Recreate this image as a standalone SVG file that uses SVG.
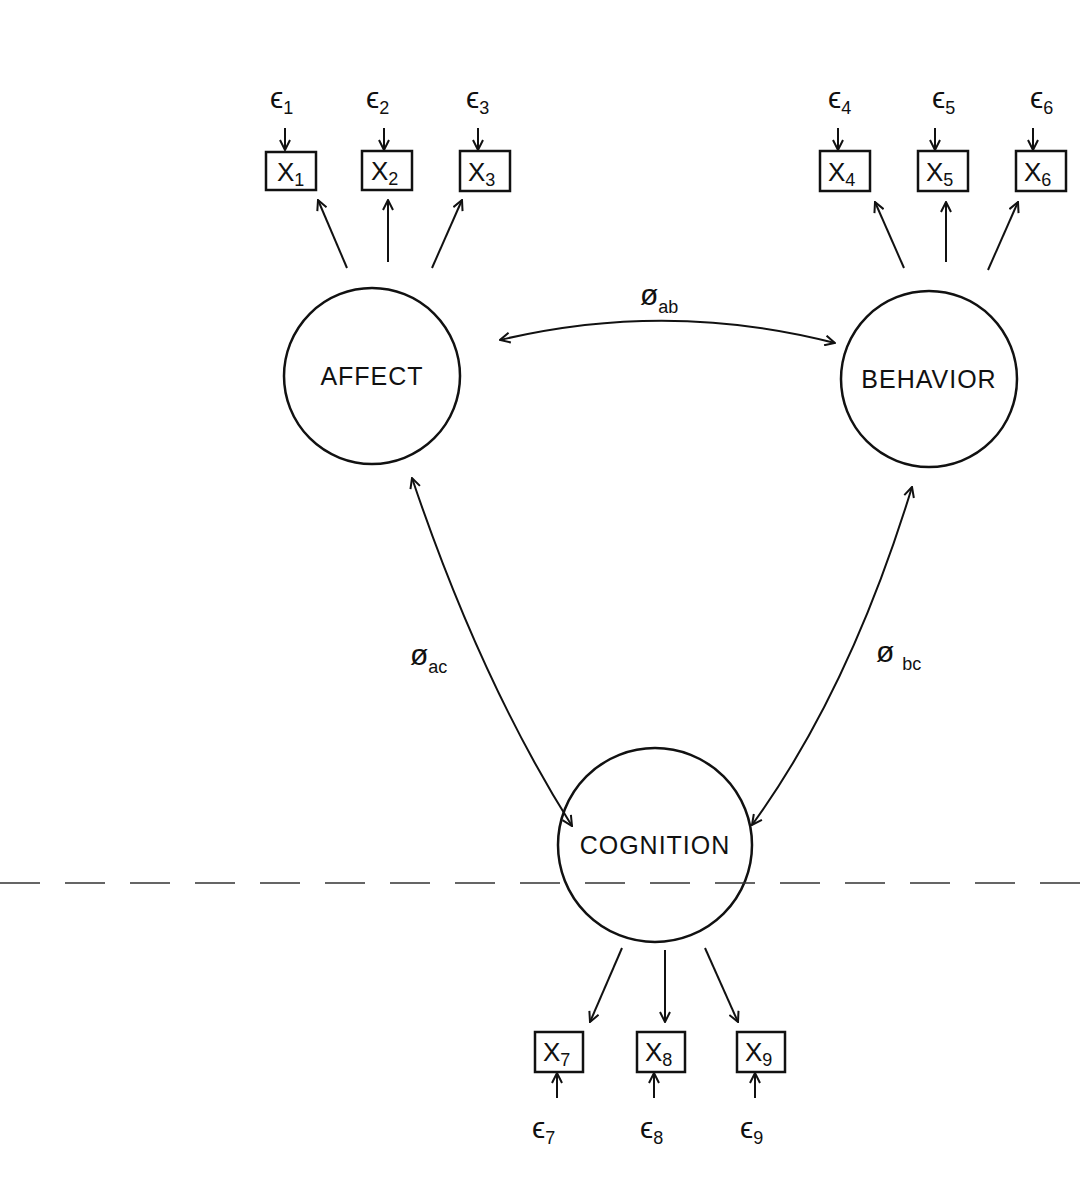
<svg xmlns="http://www.w3.org/2000/svg" width="1084" height="1192" viewBox="0 0 1084 1192">
<style>
.n{fill:none;stroke:#111;stroke-width:2}
.b{fill:#fff;stroke:#111;stroke-width:2.5}
.t{font-family:"Liberation Sans",Arial,sans-serif;fill:#111}
.lbl{font-size:25px;letter-spacing:1px}
.x{font-size:26px}
.e{font-size:30px}
.s{font-size:18px}
</style>
<defs>
<marker id="a" viewBox="0 0 12 12" refX="11" refY="6" markerWidth="12" markerHeight="12" markerUnits="userSpaceOnUse" orient="auto-start-reverse"><path d="M1,1 L11,6 L1,11" fill="none" stroke="#111" stroke-width="2"/></marker>
</defs>
<rect width="1084" height="1192" fill="#fff"/>
<g id="affect"><circle cx="372" cy="376" r="88" class="b"/><text x="372" y="385" text-anchor="middle" class="t lbl">AFFECT</text></g>
<g id="behavior"><circle cx="929" cy="379" r="88" class="b"/><text x="929" y="388" text-anchor="middle" class="t lbl">BEHAVIOR</text></g>
<g id="cognition"><circle cx="655" cy="845" r="97" class="b"/><text x="655" y="854" text-anchor="middle" class="t lbl">COGNITION</text></g>
<line x1="0" y1="883" x2="1084" y2="883" stroke="#333" stroke-width="1.5" stroke-dasharray="40,25"/>
<g id="connectors" class="n">
<path d="M347,268 L318,200" marker-end="url(#a)"/>
<path d="M388,262 L388,200" marker-end="url(#a)"/>
<path d="M432,268 L462,200" marker-end="url(#a)"/>
<path d="M904,268 L875,202" marker-end="url(#a)"/>
<path d="M946,262 L946,202" marker-end="url(#a)"/>
<path d="M988,270 L1018,202" marker-end="url(#a)"/>
<path d="M622,948 L590,1022" marker-end="url(#a)"/>
<path d="M665,950 L665,1022" marker-end="url(#a)"/>
<path d="M705,948 L738,1022" marker-end="url(#a)"/>
<path d="M285,128 L285,150" marker-end="url(#a)"/>
<path d="M384,128 L384,150" marker-end="url(#a)"/>
<path d="M478,128 L478,150" marker-end="url(#a)"/>
<path d="M838,128 L838,150" marker-end="url(#a)"/>
<path d="M935,128 L935,150" marker-end="url(#a)"/>
<path d="M1033,128 L1033,150" marker-end="url(#a)"/>
<path d="M557,1098 L557,1073" marker-end="url(#a)"/>
<path d="M654,1098 L654,1073" marker-end="url(#a)"/>
<path d="M755,1098 L755,1073" marker-end="url(#a)"/>
<path d="M500,340 Q668,300 835,343" marker-start="url(#a)" marker-end="url(#a)"/>
<path d="M412,478 Q480,680 572,826" marker-start="url(#a)" marker-end="url(#a)"/>
<path d="M912,487 Q850,690 752,825" marker-start="url(#a)" marker-end="url(#a)"/>
</g>
<g id="x1"><rect x="266" y="152" width="50" height="38" class="b"/><text x="277" y="181" class="t x">X<tspan class="s" dy="5">1</tspan></text></g>
<g id="x2"><rect x="362" y="151" width="50" height="39" class="b"/><text x="371" y="180" class="t x">X<tspan class="s" dy="5">2</tspan></text></g>
<g id="x3"><rect x="460" y="151" width="50" height="40" class="b"/><text x="468" y="181" class="t x">X<tspan class="s" dy="5">3</tspan></text></g>
<g id="x4"><rect x="820" y="151" width="50" height="40" class="b"/><text x="828" y="181" class="t x">X<tspan class="s" dy="5">4</tspan></text></g>
<g id="x5"><rect x="918" y="151" width="50" height="40" class="b"/><text x="926" y="181" class="t x">X<tspan class="s" dy="5">5</tspan></text></g>
<g id="x6"><rect x="1016" y="151" width="50" height="40" class="b"/><text x="1024" y="181" class="t x">X<tspan class="s" dy="5">6</tspan></text></g>
<g id="x7"><rect x="535" y="1032" width="48" height="40" class="b"/><text x="543" y="1061" class="t x">X<tspan class="s" dy="5">7</tspan></text></g>
<g id="x8"><rect x="637" y="1032" width="48" height="40" class="b"/><text x="645" y="1061" class="t x">X<tspan class="s" dy="5">8</tspan></text></g>
<g id="x9"><rect x="737" y="1032" width="48" height="40" class="b"/><text x="745" y="1061" class="t x">X<tspan class="s" dy="5">9</tspan></text></g>
<g id="labels">
<text x="270" y="108" class="t e">ϵ<tspan class="s" dy="6">1</tspan></text>
<text x="366" y="108" class="t e">ϵ<tspan class="s" dy="6">2</tspan></text>
<text x="466" y="108" class="t e">ϵ<tspan class="s" dy="6">3</tspan></text>
<text x="828" y="108" class="t e">ϵ<tspan class="s" dy="6">4</tspan></text>
<text x="932" y="108" class="t e">ϵ<tspan class="s" dy="6">5</tspan></text>
<text x="1030" y="108" class="t e">ϵ<tspan class="s" dy="6">6</tspan></text>
<text x="532" y="1138" class="t e">ϵ<tspan class="s" dy="6">7</tspan></text>
<text x="640" y="1138" class="t e">ϵ<tspan class="s" dy="6">8</tspan></text>
<text x="740" y="1138" class="t e">ϵ<tspan class="s" dy="6">9</tspan></text>
<text x="640" y="305" class="t e">ø<tspan class="s" dy="8">ab</tspan></text>
<text x="410" y="665" class="t e">ø<tspan class="s" dy="8">ac</tspan></text>
<text x="876" y="662" class="t e">ø<tspan class="s" dx="8" dy="8">bc</tspan></text>
</g>
</svg>
